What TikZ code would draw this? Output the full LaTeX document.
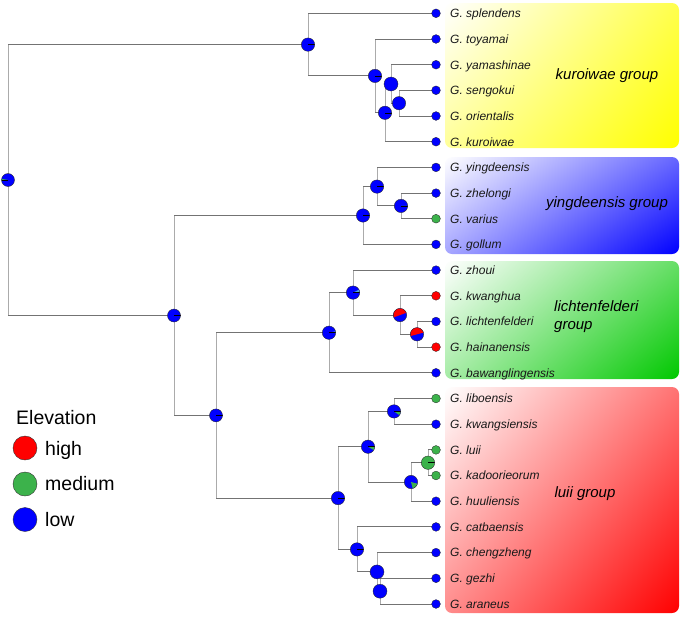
\documentclass[tikz,border=0pt]{standalone}
\usepackage{fontspec}
\setmainfont{Liberation Sans}
\usetikzlibrary{shadings}
\definecolor{pblue}{RGB}{0,0,255}
\definecolor{pred}{RGB}{255,0,0}
\definecolor{pgreen}{RGB}{60,178,75}
\definecolor{lblue}{RGB}{80,170,230}
\definecolor{boxyellow}{RGB}{255,255,0}
\definecolor{boxblue}{RGB}{0,0,255}
\definecolor{boxgreen}{RGB}{0,200,0}
\definecolor{boxred}{RGB}{255,0,0}
\newcommand\edgeto[2]{\draw[vl] (#1) -- (#1|-#2); \draw[hl] (#1|-#2) -- (#2);}
\newcommand\pbase[3]{\fill[#3] (#1) circle[radius=#2];}
\newcommand\pwedge[5]{\fill[#5] (#1) -- ++(#3:#2) arc[start angle=#3, end angle=#4, radius=#2] -- cycle;}
\newcommand\pline[3]{\draw[black, line width=0.45pt] (#1) -- ++(#3:#2);}
\newcommand\prim[2]{\draw[black!85, line width=0.35pt] (#1) circle[radius=#2];}
\newcommand\tipdot[2]{\fill[#2, draw=black!85, line width=0.3pt] (#1) circle[radius=4.4pt];}
\begin{document}
\begin{tikzpicture}[x=1pt, y=-1pt,
  vl/.style={draw=black!33, line width=0.9pt},
  hl/.style={draw=black!55, line width=0.9pt},
  tiplabel/.style={anchor=base west, inner sep=0pt, text=black!90, font=\fontsize{12}{14}\selectfont\itshape},
  grouplabel/.style={inner sep=0pt, font=\fontsize{15}{18}\selectfont\itshape},
  legendtext/.style={anchor=base west, inner sep=0pt, font=\fontsize{19.5}{22}\selectfont},
  groupbox/.style={rounded corners=7pt}]
\useasboundingbox (0,0) rectangle (685,616);

% group boxes
\shade[groupbox, upper left=white, upper right=boxyellow!70!white, lower left=boxyellow!40!white, lower right=boxyellow] (445,3) rectangle (679,148);
\shade[groupbox, upper left=white, upper right=boxblue!60!white, lower left=boxblue!35!white, lower right=boxblue] (445,157) rectangle (679,254);
\shade[groupbox, upper left=white, upper right=boxgreen!60!white, lower left=boxgreen!35!white, lower right=boxgreen] (445,261) rectangle (679,379);
\shade[groupbox, upper left=white, upper right=boxred!55!white, lower left=boxred!45!white, lower right=boxred] (445,387) rectangle (679,613);

% tips
\coordinate (splendens) at (436,13.3);
\coordinate (toyamai) at (436,39.0);
\coordinate (yamashinae) at (436,64.7);
\coordinate (sengokui) at (436,90.3);
\coordinate (orientalis) at (436,116.0);
\coordinate (kuroiwae) at (436,141.7);
\coordinate (yingdeensis) at (436,167.4);
\coordinate (zhelongi) at (436,193.1);
\coordinate (varius) at (436,218.7);
\coordinate (gollum) at (436,244.4);
\coordinate (zhoui) at (436,270.1);
\coordinate (kwanghua) at (436,295.8);
\coordinate (lichtenfelderi) at (436,321.5);
\coordinate (hainanensis) at (436,347.1);
\coordinate (bawanglingensis) at (436,372.8);
\coordinate (liboensis) at (436,398.5);
\coordinate (kwangsiensis) at (436,424.2);
\coordinate (luii) at (436,449.9);
\coordinate (kadoorieorum) at (436,475.5);
\coordinate (huuliensis) at (436,501.2);
\coordinate (catbaensis) at (436,526.9);
\coordinate (chengzheng) at (436,552.6);
\coordinate (gezhi) at (436,578.3);
\coordinate (araneus) at (436,604.0);

% internal nodes
\coordinate (E) at (399,103.2);
\coordinate (D) at (391,84.0);
\coordinate (C) at (385,112.8);
\coordinate (B) at (375,75.9);
\coordinate (A) at (308,44.6);
\coordinate (I) at (401,205.9);
\coordinate (H) at (377,186.6);
\coordinate (G) at (363,215.5);
\coordinate (O) at (417,334.3);
\coordinate (N) at (400,315.1);
\coordinate (M) at (353,292.6);
\coordinate (K) at (329,332.7);
\coordinate (S) at (428,462.7);
\coordinate (R) at (411,482.0);
\coordinate (Q) at (394,411.4);
\coordinate (P) at (368,446.7);
\coordinate (V) at (380,591.2);
\coordinate (U) at (377,571.9);
\coordinate (T) at (357,549.4);
\coordinate (L) at (338,498.1);
\coordinate (J) at (216,415.4);
\coordinate (F) at (174,315.5);
\coordinate (root) at (8,180.0);

% edges
\edgeto{root}{A} \edgeto{root}{F}
\edgeto{A}{splendens} \edgeto{A}{B}
\edgeto{B}{toyamai} \edgeto{B}{C}
\edgeto{C}{D} \edgeto{C}{kuroiwae}
\edgeto{D}{yamashinae} \edgeto{D}{E}
\edgeto{E}{sengokui} \edgeto{E}{orientalis}
\edgeto{F}{G} \edgeto{F}{J}
\edgeto{G}{H} \edgeto{G}{gollum}
\edgeto{H}{yingdeensis} \edgeto{H}{I}
\edgeto{I}{zhelongi} \edgeto{I}{varius}
\edgeto{J}{K} \edgeto{J}{L}
\edgeto{K}{M} \edgeto{K}{bawanglingensis}
\edgeto{M}{zhoui} \edgeto{M}{N}
\edgeto{N}{kwanghua} \edgeto{N}{O}
\edgeto{O}{lichtenfelderi} \edgeto{O}{hainanensis}
\edgeto{L}{P} \edgeto{L}{T}
\edgeto{P}{Q} \edgeto{P}{R}
\edgeto{Q}{liboensis} \edgeto{Q}{kwangsiensis}
\edgeto{R}{S} \edgeto{R}{huuliensis}
\edgeto{S}{luii} \edgeto{S}{kadoorieorum}
\edgeto{T}{catbaensis} \edgeto{T}{U}
\edgeto{U}{chengzheng} \edgeto{U}{V}
\edgeto{V}{gezhi} \edgeto{V}{araneus}

% pies
\pbase{root}{6.5pt}{pblue} \pwedge{root}{6.5pt}{170}{190}{pgreen} \pline{root}{6.5pt}{180} \prim{root}{6.5pt}
\pbase{F}{6.5pt}{pblue} \pline{F}{6.5pt}{0} \prim{F}{6.5pt}
\pbase{A}{6.7pt}{pblue} \pline{A}{6.7pt}{0} \prim{A}{6.7pt}
\pbase{B}{6.7pt}{pblue} \pline{B}{6.7pt}{0} \prim{B}{6.7pt}
\pbase{C}{6.7pt}{pblue} \pline{C}{6.7pt}{0} \prim{C}{6.7pt}
\pbase{D}{7pt}{pblue} \prim{D}{7pt}
\pbase{E}{6.7pt}{pblue} \prim{E}{6.7pt}
\pbase{G}{6.7pt}{pblue} \pline{G}{6.7pt}{0} \prim{G}{6.7pt}
\pbase{H}{6.7pt}{pblue} \pline{H}{6.7pt}{0} \prim{H}{6.7pt}
\pbase{I}{6.7pt}{pblue} \pwedge{I}{6.7pt}{-8}{0}{pgreen} \pline{I}{6.7pt}{0} \prim{I}{6.7pt}
\pbase{J}{6.5pt}{pblue} \pline{J}{6.5pt}{0} \prim{J}{6.5pt}
\pbase{K}{6.7pt}{pblue} \pwedge{K}{6.7pt}{0}{12}{lblue} \pline{K}{6.7pt}{0} \prim{K}{6.7pt}
\pbase{M}{6.7pt}{pblue} \pwedge{M}{6.7pt}{8}{26}{lblue} \pline{M}{6.7pt}{0} \prim{M}{6.7pt}
\pbase{N}{6.7pt}{pblue} \pwedge{N}{6.7pt}{20}{200}{pred} \prim{N}{6.7pt}
\pbase{O}{6.7pt}{pblue} \pwedge{O}{6.7pt}{15}{195}{pred} \prim{O}{6.7pt}
\pbase{L}{6.7pt}{pblue} \pline{L}{6.7pt}{0} \prim{L}{6.7pt}
\pbase{P}{6.7pt}{pblue} \pwedge{P}{6.7pt}{-30}{0}{pgreen} \pline{P}{6.7pt}{0} \prim{P}{6.7pt}
\pbase{Q}{6.7pt}{pblue} \pwedge{Q}{6.7pt}{-35}{0}{pgreen} \pline{Q}{6.7pt}{0} \prim{Q}{6.7pt}
\pbase{R}{6.7pt}{pblue} \pwedge{R}{6.7pt}{-75}{-15}{pgreen} \prim{R}{6.7pt}
\pbase{S}{6.7pt}{pgreen} \pline{S}{6.7pt}{0} \prim{S}{6.7pt}
\pbase{T}{6.7pt}{pblue} \pline{T}{6.7pt}{0} \prim{T}{6.7pt}
\pbase{U}{7pt}{pblue} \prim{U}{7pt}
\pbase{V}{7pt}{pblue} \prim{V}{7pt}

% tip dots
\tipdot{splendens}{pblue} \tipdot{toyamai}{pblue} \tipdot{yamashinae}{pblue}
\tipdot{sengokui}{pblue} \tipdot{orientalis}{pblue} \tipdot{kuroiwae}{pblue}
\tipdot{yingdeensis}{pblue} \tipdot{zhelongi}{pblue} \tipdot{varius}{pgreen} \tipdot{gollum}{pblue}
\tipdot{zhoui}{pblue} \tipdot{kwanghua}{pred} \tipdot{lichtenfelderi}{pblue} \tipdot{hainanensis}{pred} \tipdot{bawanglingensis}{pblue}
\tipdot{liboensis}{pgreen} \tipdot{kwangsiensis}{pblue} \tipdot{luii}{pgreen} \tipdot{kadoorieorum}{pgreen}
\tipdot{huuliensis}{pblue} \tipdot{catbaensis}{pblue} \tipdot{chengzheng}{pblue} \tipdot{gezhi}{pblue} \tipdot{araneus}{pblue}

% tip labels
\node[tiplabel] (l-splendens) at ([xshift=14pt, yshift=-4.3pt]splendens) {G. splendens};
\node[tiplabel] (l-toyamai) at ([xshift=14pt, yshift=-4.3pt]toyamai) {G. toyamai};
\node[tiplabel] (l-yamashinae) at ([xshift=14pt, yshift=-4.3pt]yamashinae) {G. yamashinae};
\node[tiplabel] (l-sengokui) at ([xshift=14pt, yshift=-4.3pt]sengokui) {G. sengokui};
\node[tiplabel] (l-orientalis) at ([xshift=14pt, yshift=-4.3pt]orientalis) {G. orientalis};
\node[tiplabel] (l-kuroiwae) at ([xshift=14pt, yshift=-4.3pt]kuroiwae) {G. kuroiwae};
\node[tiplabel] (l-yingdeensis) at ([xshift=14pt, yshift=-4.3pt]yingdeensis) {G. yingdeensis};
\node[tiplabel] (l-zhelongi) at ([xshift=14pt, yshift=-4.3pt]zhelongi) {G. zhelongi};
\node[tiplabel] (l-varius) at ([xshift=14pt, yshift=-4.3pt]varius) {G. varius};
\node[tiplabel] (l-gollum) at ([xshift=14pt, yshift=-4.3pt]gollum) {G. gollum};
\node[tiplabel] (l-zhoui) at ([xshift=14pt, yshift=-4.3pt]zhoui) {G. zhoui};
\node[tiplabel] (l-kwanghua) at ([xshift=14pt, yshift=-4.3pt]kwanghua) {G. kwanghua};
\node[tiplabel] (l-lichtenfelderi) at ([xshift=14pt, yshift=-4.3pt]lichtenfelderi) {G. lichtenfelderi};
\node[tiplabel] (l-hainanensis) at ([xshift=14pt, yshift=-4.3pt]hainanensis) {G. hainanensis};
\node[tiplabel] (l-bawanglingensis) at ([xshift=14pt, yshift=-4.3pt]bawanglingensis) {G. bawanglingensis};
\node[tiplabel] (l-liboensis) at ([xshift=14pt, yshift=-4.3pt]liboensis) {G. liboensis};
\node[tiplabel] (l-kwangsiensis) at ([xshift=14pt, yshift=-4.3pt]kwangsiensis) {G. kwangsiensis};
\node[tiplabel] (l-luii) at ([xshift=14pt, yshift=-4.3pt]luii) {G. luii};
\node[tiplabel] (l-kadoorieorum) at ([xshift=14pt, yshift=-4.3pt]kadoorieorum) {G. kadoorieorum};
\node[tiplabel] (l-huuliensis) at ([xshift=14pt, yshift=-4.3pt]huuliensis) {G. huuliensis};
\node[tiplabel] (l-catbaensis) at ([xshift=14pt, yshift=-4.3pt]catbaensis) {G. catbaensis};
\node[tiplabel] (l-chengzheng) at ([xshift=14pt, yshift=-4.3pt]chengzheng) {G. chengzheng};
\node[tiplabel] (l-gezhi) at ([xshift=14pt, yshift=-4.3pt]gezhi) {G. gezhi};
\node[tiplabel] (l-araneus) at ([xshift=14pt, yshift=-4.3pt]araneus) {G. araneus};

% group labels
\node[grouplabel] (g-kuroiwae) at (607,76) {kuroiwae group};
\node[grouplabel] (g-yingdeensis) at (607,204) {yingdeensis group};
\node[grouplabel, anchor=west, align=left] (g-lichtenfelderi) at (554,317) {lichtenfelderi\\group};
\node[grouplabel] (g-luii) at (585,494) {luii group};

% legend
\node[legendtext] (leg-title) at (16,424.3) {Elevation};
\fill[pred, draw=black!80, line width=0.4pt] (25,448) circle[radius=12pt];
\fill[pgreen, draw=black!80, line width=0.4pt] (25,484) circle[radius=12pt];
\fill[pblue, draw=black!80, line width=0.4pt] (25,519.5) circle[radius=12pt];
\node[legendtext] (leg-high) at (45,455.5) {high};
\node[legendtext] (leg-medium) at (45,490.5) {medium};
\node[legendtext] (leg-low) at (45,526) {low};
\end{tikzpicture}
\end{document}
